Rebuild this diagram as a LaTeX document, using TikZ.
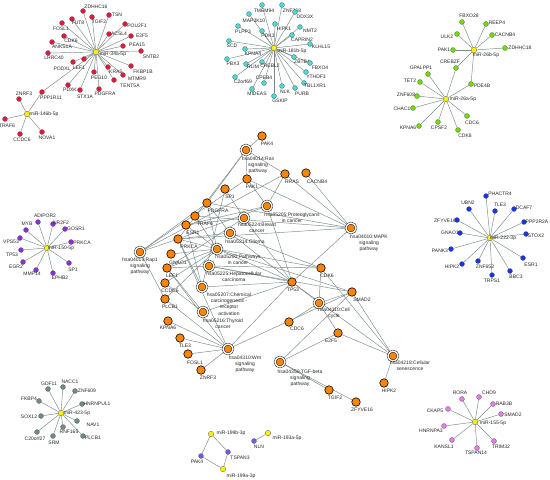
\documentclass[tikz,border=0pt]{standalone}
\usepackage{fontspec}
\setmainfont{Liberation Sans}
\pgfdeclarelayer{background}
\pgfsetlayers{background,main}
\definecolor{redc}{RGB}{232,22,60}
\definecolor{cyanc}{RGB}{72,218,214}
\definecolor{greenc}{RGB}{112,222,0}
\definecolor{purplec}{RGB}{140,45,226}
\definecolor{bluec}{RGB}{22,52,238}
\definecolor{grayc}{RGB}{112,140,136}
\definecolor{pinkc}{RGB}{236,120,236}
\definecolor{lavc}{RGB}{112,92,232}
\definecolor{orangec}{RGB}{255,132,0}
\definecolor{edgec}{RGB}{120,136,136}
\newcommand\lf[5]{\node[#1] (#2) at (#3) {}; \node[lab] at (#4) {#5};}
\begin{document}
\begin{tikzpicture}[x=1pt,y=-1pt,
  lab/.style={font=\fontsize{5}{6.2}\selectfont, inner sep=0, align=center, text=black!85},
  leaf/.style={circle, draw=black!65, line width=0.25pt, inner sep=0, minimum size=5pt},
  rd/.style={leaf, fill=redc}, cy/.style={leaf, fill=cyanc}, gr/.style={leaf, fill=greenc},
  pu/.style={leaf, fill=purplec}, bl/.style={leaf, fill=bluec}, gy/.style={leaf, fill=grayc},
  pk/.style={leaf, fill=pinkc}, lv/.style={leaf, fill=lavc},
  hub/.style={circle, draw=black!65, line width=0.3pt, fill=yellow, inner sep=0, minimum size=5.5pt},
  gene/.style={circle, draw=black, line width=0.6pt, fill=orangec, inner sep=0, minimum size=8.5pt},
  pw/.style={circle, draw=black, line width=0.45pt, double=white, double distance=1.4pt, fill=orangec, inner sep=0, minimum size=10pt},
  edge/.style={draw=edgec, line width=0.45pt}]
\path[use as bounding box] (0,0) rectangle (550,480);
% ---------- miR-34a-5p
\node[hub] (h34) at (96,52) {}; \node[lab] at (113,54) {miR-34a-5p};
\lf{rd}{r1}{83,11}{96,7}{ZDHHC16}
\lf{rd}{r2}{109,15}{117,15}{TSN}
\lf{rd}{r3}{92,17}{99,22}{TGIF2}
\lf{rd}{r4}{72,19}{78,23}{FUT8}
\lf{rd}{r5}{125,24}{137,26}{POU2F1}
\lf{rd}{r6}{62,23}{61,29}{FOSL1}
\lf{rd}{r7}{109,34}{119,34}{ACSL4}
\lf{rd}{r8}{131,36}{142,36}{E2F5}
\lf{rd}{r9}{64,36}{71,41}{CDK6}
\lf{rd}{r10}{123,46}{137,45}{PEA15}
\lf{rd}{r11}{52,42}{62,47}{ANKS1A}
\lf{rd}{r12}{141,51}{151,57}{SNTB2}
\lf{rd}{r13}{48,53}{54,58}{LRRC40}
\lf{rd}{r14}{131,66}{143,72}{FKBP1B}
\lf{rd}{r15}{73,62}{62,69}{PODXL}
\lf{rd}{r16}{84,59}{79,68}{LEF1}
\lf{rd}{r17}{108,67}{116,72}{KRAS}
\lf{rd}{r18}{94,72}{99,78}{PEG10}
\lf{rd}{r19}{123,75}{137,79}{MTMR9}
\lf{rd}{r20}{114,80}{130,86}{TENT5A}
\lf{rd}{r21}{68,85}{70,90}{PDXK}
\lf{rd}{r22}{80,90}{85,97}{STX1A}
\lf{rd}{r23}{99,89}{105,94}{PDGFRA}
\lf{rd}{r24}{42,92}{51,98}{PPP1R11}
% ---------- miR-146b-5p
\node[hub] (h146) at (27,114) {}; \node[lab] at (44,114) {miR-146b-5p};
\lf{rd}{s1}{19,99}{24,94}{ZNRF3}
\lf{rd}{s2}{5,119}{7,126}{TRAF6}
\lf{rd}{s3}{20,134}{22,140}{CCDC6}
\lf{rd}{s4}{42,132}{47,138}{NOVA1}
% ---------- miR-181b-5p
\node[hub] (h181) at (274,48) {}; \node[lab] at (292,51) {miR-181b-5p};
\lf{cy}{c1}{262,5}{264,11}{TMEM94}
\lf{cy}{c2}{282,5}{292,11}{ZNF268}
\lf{cy}{c3}{249,14}{254,21}{MAP3K10}
\lf{cy}{c4}{275,24}{284,29}{HIPK1}
\lf{cy}{c5}{238,26}{243,32}{PLPP3}
\lf{cy}{c6}{262,31}{268,36}{PDK3}
\lf{cy}{c7}{229,41}{232,46}{SCD}
\lf{cy}{c8}{245,49}{253,54}{KPNA4}
\lf{cy}{c9}{227,59}{233,64}{PBX3}
\lf{cy}{c10}{246,64}{253,67}{RLIM}
\lf{cy}{c11}{262,62}{270,66}{CREBL2}
\lf{cy}{c12}{235,77}{243,82}{C2orf69}
\lf{cy}{c13}{264,83}{264,78}{CPEB4}
\lf{cy}{c14}{252,89}{257,94}{MIDEAS}
\lf{cy}{c15}{274,96}{280,101}{GSKIP}
\lf{cy}{c16}{282,86}{285,92}{NLK}
\lf{cy}{c17}{295,88}{302,94}{PURB}
\lf{cy}{c18}{304,83}{315,86}{TBL1XR1}
\lf{cy}{c19}{295,12}{305,17}{DDX3X}
\lf{cy}{c20}{300,27}{310,31}{NMT2}
\lf{cy}{c21}{292,35}{302,40}{CAPRIN2}
\lf{cy}{c22}{310,44}{321,47}{KLHL15}
\lf{cy}{c23}{294,57}{302,62}{ZBTB4}
\lf{cy}{c24}{310,63}{320,68}{FBXO4}
\lf{cy}{c25}{306,72}{316,77}{YTHDF3}
% ---------- miR-26b-5p / miR-26a-5p
\node[hub] (h26b) at (474,50) {}; \node[lab] at (486,55) {miR-26b-5p};
\node[hub] (h26a) at (446,99) {}; \node[lab] at (463,99) {miR-26a-5p};
\lf{gr}{g1}{462,22}{469,16}{FBXO28}
\lf{gr}{g2}{486,24}{497,23}{REEP4}
\lf{gr}{g3}{457,34}{447,37}{ULK2}
\lf{gr}{g4}{492,35}{505,35}{CACNB4}
\lf{gr}{g5}{453,50}{444,50}{PAK1}
\lf{gr}{g6}{505,48}{520,48}{ZDHHC18}
\lf{gr}{g7}{456,68}{450,62}{CREBZF}
\lf{gr}{g8}{471,84}{482,86}{PDE4B}
\lf{gr}{g9}{428,74}{421,68}{GPALPP1}
\lf{gr}{g10}{420,82}{410,81}{TET2}
\lf{gr}{g11}{417,96}{406,95}{ZNF608}
\lf{gr}{g12}{413,108}{402,109}{CHAC1}
\lf{gr}{g13}{467,116}{472,123}{CDC6}
\lf{gr}{g14}{419,126}{408,128}{KPNA6}
\lf{gr}{g15}{438,122}{439,128}{CPSF2}
\lf{gr}{g16}{458,130}{465,136}{CDK8}
% ---------- miR-150-5p
\node[hub] (h150) at (47,248) {}; \node[lab] at (61,248) {miR-150-5p};
\lf{pu}{p1}{38,222}{45,216}{ADIPOR2}
\lf{pu}{p2}{26,230}{27,224}{MYB}
\lf{pu}{p3}{53,224}{61,223}{NR2F2}
\lf{pu}{p4}{65,229}{76,229}{GOSR1}
\lf{pu}{p5}{20,238}{11,242}{VPS53}
\lf{pu}{p6}{71,242}{82,243}{PRKCA}
\lf{pu}{p7}{21,250}{12,255}{TP53}
\lf{pu}{p8}{23,262}{16,267}{EGR2}
\lf{pu}{p9}{69,263}{73,270}{SP1}
\lf{pu}{p10}{36,270}{32,274}{MMP14}
\lf{pu}{p11}{53,273}{60,278}{EPHB2}
% ---------- miR-222-3p
\node[hub] (h222) at (490,238) {}; \node[lab] at (503,238) {miR-222-3p};
\lf{bl}{b1}{486,196}{500,194}{PHACTR4}
\lf{bl}{b2}{469,209}{468,203}{UBN2}
\lf{bl}{b3}{495,211}{500,205}{TLE3}
\lf{bl}{b4}{514,209}{524,208}{DCAF7}
\lf{bl}{b5}{457,220}{445,221}{ZFYVE16}
\lf{bl}{b6}{524,222}{537,222}{PPP2R2A}
\lf{bl}{b7}{460,233}{450,233}{GNAO1}
\lf{bl}{b8}{526,234}{536,236}{STOX2}
\lf{bl}{b9}{451,249}{440,251}{PANK3}
\lf{bl}{b10}{523,258}{531,265}{ESR1}
\lf{bl}{b11}{462,264}{452,267}{HIPK2}
\lf{bl}{b12}{478,261}{485,267}{ZNF652}
\lf{bl}{b13}{510,271}{516,277}{BBC3}
\lf{bl}{b14}{492,275}{492,281}{TRPS1}
% ---------- miR-423-5p
\node[hub] (h423) at (61,413) {}; \node[lab] at (77,413) {miR-423-5p};
\lf{gy}{q1}{48,389}{49,384}{GDF11}
\lf{gy}{q2}{63,387}{70,382}{NACC1}
\lf{gy}{q3}{75,391}{87,391}{ZNF609}
\lf{gy}{q4}{39,401}{29,399}{FKBP4}
\lf{gy}{q5}{82,404}{97,404}{HNRNPUL1}
\lf{gy}{q6}{41,416}{29,417}{SOX12}
\lf{gy}{q7}{77,421}{93,425}{NAV1}
\lf{gy}{q8}{37,432}{35,439}{C20orf27}
\lf{gy}{q9}{63,427}{69,432}{RNF165}
\lf{gy}{q10}{53,436}{54,443}{SRM}
\lf{gy}{q11}{83,436}{93,438}{PLCB1}
% ---------- miR-155-5p
\node[hub] (h155) at (475,422) {}; \node[lab] at (493,423) {miR-155-5p};
\lf{pk}{k1}{462,399}{460,393}{RORA}
\lf{pk}{k2}{479,397}{489,393}{CHD9}
\lf{pk}{k3}{493,404}{504,404}{RAB3B}
\lf{pk}{k4}{448,409}{435,411}{CKAP5}
\lf{pk}{k5}{501,414}{513,415}{SMAD2}
\lf{pk}{k6}{444,426}{431,431}{HNRNPA3}
\lf{pk}{k7}{452,440}{444,447}{KANSL1}
\lf{pk}{k8}{494,441}{501,447}{TRIM32}
\lf{pk}{k9}{477,448}{476,453}{TSPAN14}
% ---------- small bottom groups
\node[hub] (m199b) at (211,434) {}; \node[lab] at (231,433) {miR-199b-3p};
\node[hub] (m199a) at (223,469) {}; \node[lab] at (241,476) {miR-199a-3p};
\node[hub] (m193a) at (268,433) {}; \node[lab] at (287,438) {miR-193a-5p};
\lf{lv}{v1}{201,456}{197,462}{PAK4}
\lf{lv}{v2}{228,452}{240,458}{TSPAN3}
\lf{lv}{v3}{254,441}{259,447}{NLN}
% ---------- central network: genes
\lf{gene}{oPAK4}{262,136}{267,144}{PAK4}
\lf{gene}{oPAK1}{247,179}{252,187}{PAK1}
\lf{gene}{oRRAS}{285,174}{292,182}{RRAS}
\lf{gene}{oCACNB4}{306,173}{317,182}{CACNB4}
\lf{gene}{oSP1}{225,189}{230,197}{SP1}
\lf{gene}{oPDGFRA}{207,203}{218,211}{PDGFRA}
\lf{gene}{oTRAF6}{195,216}{205,224}{TRAF6}
\lf{gene}{oESR1}{186,225}{193,233}{ESR1}
\lf{gene}{oPRKCA}{178,239}{189,247}{PRKCA}
\lf{gene}{oGNAO1}{171,254}{178,263}{GNAO1}
\lf{gene}{oLEF1}{167,268}{172,276}{LEF1}
\lf{gene}{oCCDC6}{165,283}{170,291}{CCDC6}
\lf{gene}{oPLCB1}{165,299}{170,307}{PLCB1}
\lf{gene}{oKPNA6}{168,321}{168,328}{KPNA6}
\lf{gene}{oTLE3}{180,338}{185,346}{TLE3}
\lf{gene}{oFOSL1}{188,354}{195,363}{FOSL1}
\lf{gene}{oZNRF3}{201,370}{208,378}{ZNRF3}
\lf{gene}{oCDK6}{321,268}{327,276}{CDK6}
\lf{gene}{oTP53}{292,282}{293,290}{TP53}
\lf{gene}{oSMAD2}{352,292}{362,300}{SMAD2}
\lf{gene}{oCDC6}{289,322}{297,329}{CDC6}
\lf{gene}{oE2F5}{338,333}{331,341}{E2F5}
\lf{gene}{oTGIF2}{329,390}{335,398}{TGIF2}
\lf{gene}{oHIPK2}{384,383}{389,391}{HIPK2}
\lf{gene}{oZFYVE16}{356,402}{362,410}{ZFYVE16}
% ---------- central network: pathways
\lf{pw}{pRas}{246,150}{258,165}{hsa04014:Ras\\signaling\\pathway}
\lf{pw}{pProt}{267,206}{292,218}{hsa05205:Proteoglycans\\in cancer}
\lf{pw}{pBreast}{244,218}{257,228}{hsa05224:Breast\\cancer}
\lf{pw}{pGlioma}{230,233}{245,242}{hsa05214:Glioma}
\lf{pw}{pCancer}{217,249}{238,260}{hsa05200:Pathways\\in cancer}
\lf{pw}{pHep}{209,266}{234,277}{hsa05225:Hepatocellular\\carcinoma}
\lf{pw}{pChem}{202,287}{229,304}{hsa05207:Chemical\\carcinogenesis -\\receptor\\activation}
\lf{pw}{pThy}{203,312}{223,324}{hsa05216:Thyroid\\cancer}
\lf{pw}{pWnt}{228,349}{245,364}{hsa04310:Wnt\\signaling\\pathway}
\lf{pw}{pMAPK}{351,228}{369,243}{hsa04010:MAPK\\signaling\\pathway}
\lf{pw}{pCell}{319,303}{334,313}{hsa04110:Cell\\cycle}
\lf{pw}{pTGF}{280,362}{300,378}{hsa04350:TGF-beta\\signaling\\pathway}
\lf{pw}{pRap1}{140,252}{140,266}{hsa04015:Rap1\\signaling\\pathway}
\lf{pw}{pSen}{393,356}{410,366}{hsa04218:Cellular\\senescence}
% ---------- edges
\begin{pgfonlayer}{background}
\foreach \n in {r1,r2,r3,r4,r5,r6,r7,r8,r9,r10,r11,r12,r13,r14,r15,r16,r17,r18,r19,r20,r21,r22,r23,r24}
  \draw[edge] (h34) -- (\n);
\foreach \n in {r24,s1,s2,s3,s4} \draw[edge] (h146) -- (\n);
\foreach \n in {c1,c2,c3,c4,c5,c6,c7,c8,c9,c10,c11,c12,c13,c14,c15,c16,c17,c18,c19,c20,c21,c22,c23,c24,c25}
  \draw[edge] (h181) -- (\n);
\foreach \n in {g1,g2,g3,g4,g5,g6,g7,g8} \draw[edge] (h26b) -- (\n);
\foreach \n in {g7,g8,g9,g10,g11,g12,g13,g14,g15,g16} \draw[edge] (h26a) -- (\n);
\foreach \n in {p1,p2,p3,p4,p5,p6,p7,p8,p9,p10,p11} \draw[edge] (h150) -- (\n);
\foreach \n in {b1,b2,b3,b4,b5,b6,b7,b8,b9,b10,b11,b12,b13,b14} \draw[edge] (h222) -- (\n);
\foreach \n in {q1,q2,q3,q4,q5,q6,q7,q8,q9,q10,q11} \draw[edge] (h423) -- (\n);
\foreach \n in {k1,k2,k3,k4,k5,k6,k7,k8,k9} \draw[edge] (h155) -- (\n);
\draw[edge] (m199b) -- (v1) -- (m199a) -- (v2) -- (m199b);
\draw[edge] (v3) -- (m193a);
\foreach \a/\b in {pRas/oPAK4,pRas/oPAK1,pRas/oRRAS,pRas/oPDGFRA,pRas/oPRKCA,
  pRap1/oPDGFRA,pRap1/oPRKCA,pRap1/oRRAS,pRap1/oPLCB1,pRap1/oPAK1,
  pMAPK/oPAK1,pMAPK/oRRAS,pMAPK/oCACNB4,pMAPK/oPDGFRA,pMAPK/oTRAF6,pMAPK/oPRKCA,pMAPK/oTP53,
  pProt/oRRAS,pProt/oESR1,pProt/oPRKCA,pProt/oTP53,pProt/oPAK1,
  pBreast/oESR1,pBreast/oLEF1,pBreast/oTP53,pBreast/oSP1,
  pGlioma/oPDGFRA,pGlioma/oPRKCA,pGlioma/oTP53,pGlioma/oCDK6,
  pCancer/oPDGFRA,pCancer/oTRAF6,pCancer/oESR1,pCancer/oPRKCA,pCancer/oGNAO1,pCancer/oLEF1,pCancer/oCCDC6,pCancer/oPLCB1,pCancer/oTP53,pCancer/oCDK6,pCancer/oSMAD2,
  pHep/oLEF1,pHep/oTP53,pHep/oCDK6,pHep/oSMAD2,
  pChem/oESR1,pChem/oPRKCA,pChem/oSP1,pChem/oTP53,
  pThy/oCCDC6,pThy/oLEF1,pThy/oTP53,
  pWnt/oTLE3,pWnt/oFOSL1,pWnt/oZNRF3,pWnt/oLEF1,pWnt/oPRKCA,pWnt/oPLCB1,pWnt/oTP53,pWnt/oSMAD2,pWnt/oKPNA6,
  pCell/oCDK6,pCell/oTP53,pCell/oSMAD2,pCell/oCDC6,pCell/oE2F5,
  pTGF/oSMAD2,pTGF/oTGIF2,pTGF/oZFYVE16,pTGF/oE2F5,
  pSen/oTP53,pSen/oCDK6,pSen/oSMAD2,pSen/oHIPK2,pSen/oE2F5}
  \draw[edge] (\a) -- (\b);
\end{pgfonlayer}
\end{tikzpicture}
\end{document}
